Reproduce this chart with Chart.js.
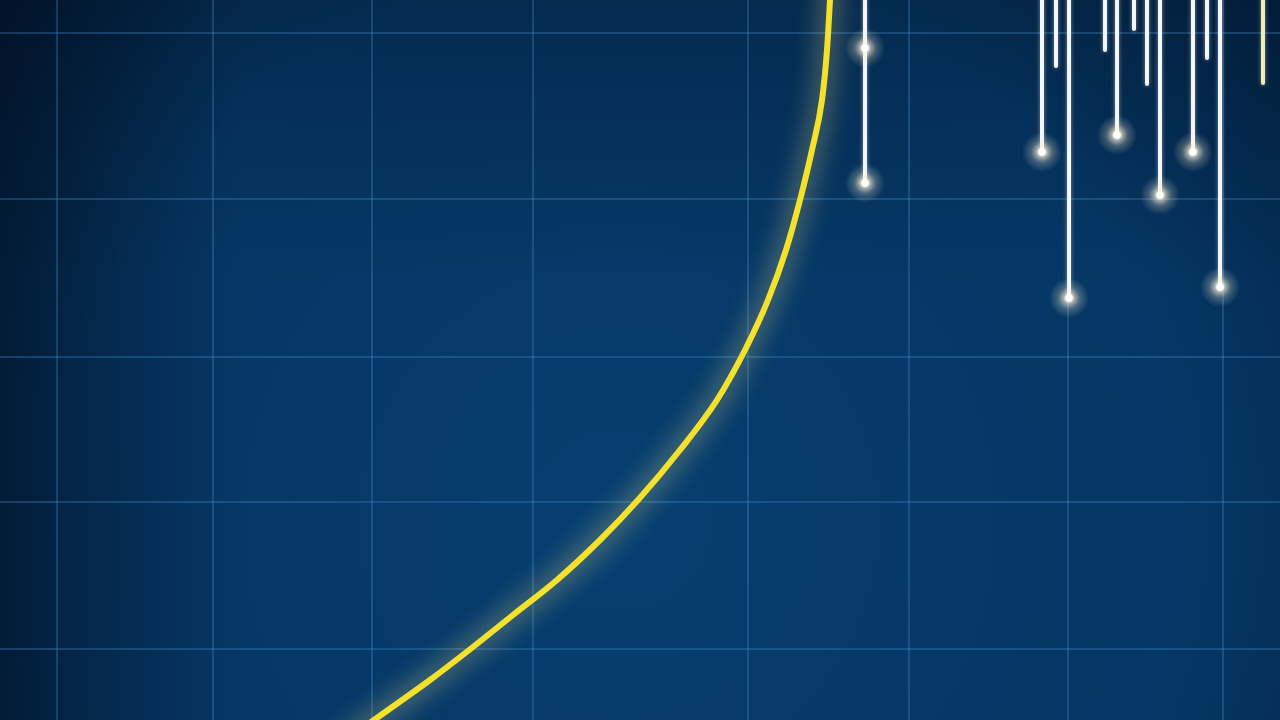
<!DOCTYPE html>
<html>
<head>
<meta charset="utf-8">
<script src="https://cdn.jsdelivr.net/npm/chart.js@4/dist/chart.umd.min.js"></script>
<style>
  html, body { margin: 0; padding: 0; background: #06345e; overflow: hidden; }
  #wrap { width: 1280px; height: 720px; }
</style>
</head>
<body>
<div id="wrap"><canvas id="chart" width="1280" height="720"></canvas></div>
<script>
// Grid positions (axis units)
const gridX = [5.7, 21.3, 37.2, 53.3, 74.8, 90.9, 106.8, 122.3];
const gridY = [7.1, 21.8, 36.3, 52.1, 68.7];

// Yellow growth curve
const curveX = [29.2, 37.4, 43.0, 47.3, 51.3, 55.7, 60.0, 63.8, 68.0, 71.7, 74.5, 76.8, 78.6, 80.0, 81.2, 82.2, 82.7, 83.0, 83.2];
const curveY = [-6, 0, 4, 7.3, 10.5, 14, 18, 22, 27, 32, 37, 42, 47, 52, 57, 62, 67, 72, 76];

// Hanging drops: x position and lower end
const dropX   = [86.5, 104.2, 105.6, 106.9, 110.5, 111.7, 113.4, 114.7, 116.0, 119.3, 120.7, 122.0, 126.3];
const dropEnd = [53.7, 56.8, 65.4, 42.2, 67.0, 58.5, 69.1, 63.6, 52.5, 56.8, 66.2, 43.3, 63.7];
const dropTop = 80;

// Glowing dots
const dotX = [86.5, 86.5, 104.2, 106.9, 111.7, 116.0, 119.3, 122.0];
const dotY = [67.2, 53.7, 56.8, 42.2, 58.5, 52.5, 56.8, 43.3];

// drops as separate segments, broken by nulls
const dropPoints = [];
dropX.forEach((x, i) => {
    dropPoints.push({ x: x, y: dropTop }, { x: x, y: dropEnd[i] }, { x: x, y: null });
});

// glowing point sprite
function makeGlow(size) {
    const c = document.createElement('canvas');
    c.width = size; c.height = size;
    const g = c.getContext('2d');
    const r = size / 2;
    const grad = g.createRadialGradient(r, r, 0, r, r, r);
    grad.addColorStop(0, 'rgba(255,255,255,1)');
    grad.addColorStop(0.16, 'rgba(255,255,255,1)');
    grad.addColorStop(0.26, 'rgba(255,242,215,0.65)');
    grad.addColorStop(0.55, 'rgba(255,236,205,0.25)');
    grad.addColorStop(1, 'rgba(255,236,205,0)');
    g.fillStyle = grad;
    g.fillRect(0, 0, size, size);
    return c;
}
const glowDot = makeGlow(40);

// Background painting
const backgroundPlugin = {
    id: 'background',
    beforeDraw(chart) {
        const ctx = chart.ctx;
        const w = chart.width, h = chart.height;
        ctx.save();
        ctx.fillStyle = '#063c6d';
        ctx.fillRect(0, 0, w, h);
        let g = ctx.createRadialGradient(620, 520, 50, 620, 520, 900);
        g.addColorStop(0, 'rgba(8,70,118,0.3)');
        g.addColorStop(0.6, 'rgba(0,20,45,0.1)');
        g.addColorStop(1, 'rgba(0,10,25,0.6)');
        ctx.fillStyle = g;
        ctx.fillRect(0, 0, w, h);
        g = ctx.createLinearGradient(0, 0, 240, 0);
        g.addColorStop(0, 'rgba(0,12,28,0.6)');
        g.addColorStop(1, 'rgba(0,12,28,0)');
        ctx.fillStyle = g;
        ctx.fillRect(0, 0, w, h);
        g = ctx.createLinearGradient(0, 0, 0, 280);
        g.addColorStop(0, 'rgba(0,12,28,0.3)');
        g.addColorStop(1, 'rgba(0,12,28,0)');
        ctx.fillStyle = g;
        ctx.fillRect(0, 0, w, h);
        ctx.restore();
    }
};

// Soft glow around selected datasets
const glowPlugin = {
    id: 'glow',
    beforeDatasetDraw(chart, args) {
        const ds = chart.data.datasets[args.index];
        if (!ds.glowColor) return;
        chart.ctx.save();
        chart.ctx.shadowColor = ds.glowColor;
        chart.ctx.shadowBlur = ds.glowBlur;
    },
    afterDatasetDraw(chart, args) {
        const ds = chart.data.datasets[args.index];
        if (!ds.glowColor) return;
        chart.ctx.restore();
    }
};

new Chart(document.getElementById('chart'), {
    type: 'line',
    data: {
        datasets: [
            {
                data: dropPoints,
                borderColor: '#f4f6f8',
                borderWidth: 4,
                borderCapStyle: 'round',
                pointRadius: 0,
                spanGaps: false,
                segment: {
                    borderColor: c => c.p0DataIndex >= (dropX.length - 1) * 3 ? '#f1eeb0' : undefined
                },
                glowColor: 'rgba(255,255,255,0.45)',
                glowBlur: 4,
                order: 2
            },
            {
                type: 'scatter',
                data: dotX.map((x, i) => ({ x: x, y: dotY[i] })),
                pointStyle: glowDot,
                pointRadius: 20,
                order: 1
            },
            {
                data: curveX.map((x, i) => ({ x: x, y: curveY[i] })),
                borderColor: '#f4e12c',
                borderWidth: 6,
                pointRadius: 0,
                cubicInterpolationMode: 'monotone',
                glowColor: 'rgba(255,235,140,0.95)',
                glowBlur: 26,
                order: 0
            }
        ]
    },
    options: {
        responsive: false,
        animation: false,
        layout: { padding: 0, autoPadding: false },
        elements: { line: { capBezierPoints: false } },
        plugins: {
            legend: { display: false },
            tooltip: { enabled: false }
        },
        scales: {
            x: {
                type: 'linear',
                min: 0,
                max: 128,
                offset: false,
                ticks: { display: false },
                border: { display: false },
                grid: { color: 'rgba(70,145,210,0.3)', lineWidth: 2, drawTicks: false },
                afterBuildTicks: s => { s.ticks = gridX.map(v => ({ value: v })); }
            },
            y: {
                type: 'linear',
                min: 0,
                max: 72,
                ticks: { display: false },
                border: { display: false },
                grid: { color: 'rgba(70,145,210,0.3)', lineWidth: 2, drawTicks: false },
                afterBuildTicks: s => { s.ticks = gridY.map(v => ({ value: v })); }
            }
        }
    },
    plugins: [backgroundPlugin, glowPlugin]
});
</script>
</body>
</html>
